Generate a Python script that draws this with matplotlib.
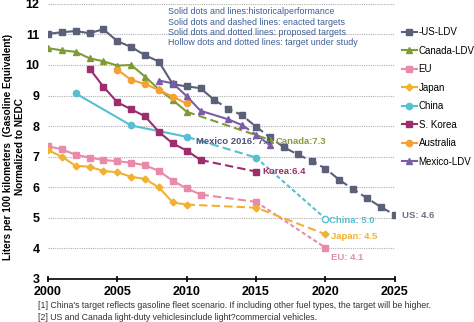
import matplotlib
matplotlib.use('Agg')
import matplotlib.pyplot as plt
from matplotlib.lines import Line2D

plt.rcParams['font.family'] = ['Liberation Sans', 'DejaVu Sans']

# data
us_years = list(range(2000, 2026))
us_vals = [11.02, 11.07, 11.11, 11.04, 11.17, 10.78, 10.59, 10.32, 10.11, 9.37,
           9.30, 9.24, 8.85, 8.57, 8.35, 7.98, 7.63, 7.31, 7.07, 6.86,
           6.61, 6.24, 5.93, 5.64, 5.35, 5.09]
canada_years = [2000, 2001, 2002, 2003, 2004, 2005, 2006, 2007, 2008, 2009, 2010, 2016]
canada_vals = [10.55, 10.48, 10.43, 10.22, 10.12, 9.98, 10.0, 9.62, 9.2, 8.85, 8.47, 7.55]
eu_years = [2000, 2001, 2002, 2003, 2004, 2005, 2006, 2007, 2008, 2009, 2010, 2011, 2015, 2020]
eu_vals = [7.34, 7.24, 7.06, 6.97, 6.89, 6.85, 6.80, 6.72, 6.53, 6.21, 5.96, 5.76, 5.52, 4.02]
japan_years = [2000, 2001, 2002, 2003, 2004, 2005, 2006, 2007, 2008, 2009, 2010, 2015, 2020]
japan_vals = [7.21, 7.0, 6.70, 6.67, 6.53, 6.49, 6.34, 6.27, 5.99, 5.50, 5.43, 5.33, 4.46]
china_years = [2002, 2006, 2010, 2015, 2020]
china_vals = [9.07, 8.02, 7.65, 6.97, 4.97]
korea_years = [2003, 2004, 2005, 2006, 2007, 2008, 2009, 2010, 2011, 2015]
korea_vals = [9.88, 9.29, 8.78, 8.55, 8.32, 7.81, 7.43, 7.20, 6.89, 6.51]
aus_years = [2005, 2006, 2007, 2008, 2009, 2010]
aus_vals = [9.85, 9.51, 9.38, 9.18, 8.96, 8.74]
mexico_years = [2008, 2009, 2010, 2011, 2013, 2014, 2015, 2016]
mexico_vals = [9.49, 9.40, 8.98, 8.50, 8.22, 8.03, 7.72, 7.37]

names = ['-US-LDV', 'Canada-LDV', 'EU', 'Japan', 'China', 'S. Korea', 'Australia', 'Mexico-LDV']

dash = (0, (4, 2))
dot = (0, (2, 1.3))

# (years, values, colour, marker, [(last index of piece, linestyle)], hollow last point)
series = [
    (us_years, us_vals, '#5b6079', 's', [(12, '-'), (25, dash)], False),
    (canada_years, canada_vals, '#7e9b36', '^', [(10, '-'), (11, dash)], False),
    (eu_years, eu_vals, '#e98aa9', 's', [(11, '-'), (12, dash), (13, dot)], False),
    (japan_years, japan_vals, '#f2b133', 'D', [(10, '-'), (12, dash)], False),
    (china_years, china_vals, '#56bfd0', 'o', [(2, '-'), (3, dash), (4, dot)], True),
    (korea_years, korea_vals, '#9d2d6d', 's', [(8, '-'), (9, dash)], False),
    (aus_years, aus_vals, '#f5a131', 'o', [(5, '-')], False),
    (mexico_years, mexico_vals, '#7b5ca9', '^', [(5, '-'), (7, dash)], False),
]

fig = plt.figure(figsize=(4.74, 3.22), dpi=100)
ax = fig.add_axes([0.101, 0.134, 0.732, 0.854])

for yv in range(4, 13):
    ax.axhline(yv, color='#b0b0b0', lw=0.8, ls=(0, (1, 1)), zorder=0)

handles = []
for (yrs, vals, col, mk, pieces, hollow), name in zip(series, names):
    ms = 3.5 if mk == 'D' else 4.5
    start = 0
    for end, ls in pieces:
        ax.plot(yrs[start:end + 1], vals[start:end + 1], color=col, lw=1.5, ls=ls, zorder=2)
        start = end
    ax.plot(yrs[:-1] if hollow else yrs, vals[:-1] if hollow else vals, ls='none',
            marker=mk, ms=ms, color=col, zorder=3)
    if hollow:
        ax.plot(yrs[-1:], vals[-1:], ls='none', marker=mk, ms=ms, mfc='white', mec=col, zorder=3)
    handles.append(Line2D([], [], color=col, lw=1.5, marker=mk, ms=ms))

ax.set_xlim(2000, 2025)
ax.set_ylim(3, 12)
ax.set_xticks([2000, 2005, 2010, 2015, 2020, 2025])
ax.set_yticks(range(3, 13))
for s in ['top', 'right', 'left']:
    ax.spines[s].set_visible(False)
ax.spines['bottom'].set_linewidth(1.2)
ax.tick_params(axis='y', length=0, labelsize=9, pad=6)
ax.tick_params(axis='x', length=4, width=1.2, direction='inout', labelsize=9, pad=3.5)
for lab in ax.get_xticklabels() + ax.get_yticklabels():
    lab.set_fontweight('bold')

ax.set_ylabel('Liters per 100 kilometers  (Gasoline Equivalent)\nNormalized to NEDC',
              fontsize=7.2, fontweight='bold', linespacing=1.2)
ax.yaxis.set_label_coords(-0.066, 0.48)

labels = [
    ('Mexico 2016: 7.4', 2010.66, 7.48, '#4e5378'),
    ('Canada:7.3', 2016.43, 7.51, '#8a9b3c'),
    ('Korea:6.4', 2015.42, 6.52, '#9d2d6d'),
    ('China: 5.0', 2020.24, 4.92, '#56bfd0'),
    ('US: 4.6', 2025.5, 5.08, '#6b6f86'),
    ('Japan: 4.5', 2020.39, 4.39, '#f2b133'),
    ('EU: 4.1', 2020.39, 3.70, '#e98aa9'),
]
for txt, x, y, col in labels:
    ax.text(x, y, txt, color=col, fontsize=6.8, fontweight='bold', va='center', ha='left',
            clip_on=False)

notes = ['Solid dots and lines:historicalperformance',
         'Solid dots and dashed lines: enacted targets',
         'Solid dots and dotted lines: proposed targets',
         'Hollow dots and dotted lines: target under study']
for i, t in enumerate(notes):
    fig.text(168 / 474, 1 - (12 + i * 10.3) / 322, t, fontsize=6.4, color='#3d5d98', va='center')

fig.text(38 / 474, 1 - 305 / 322,
         "[1] China's target reflects gasoline fleet scenario. If including other fuel types, the target will be higher.",
         fontsize=6.3, color='#333333', va='center')
fig.text(38 / 474, 1 - 318 / 322,
         "[2] US and Canada light-duty vehiclesinclude light?commercial vehicles.",
         fontsize=6.3, color='#333333', va='center')

fig.legend(handles, names, loc='upper left', bbox_to_anchor=(402 / 474, 1 - 27 / 322),
           frameon=False, fontsize=7.0, handlelength=1.5, handletextpad=0.2,
           labelspacing=0.88, borderaxespad=0, borderpad=0)

fig.savefig('out.png', dpi=100)
